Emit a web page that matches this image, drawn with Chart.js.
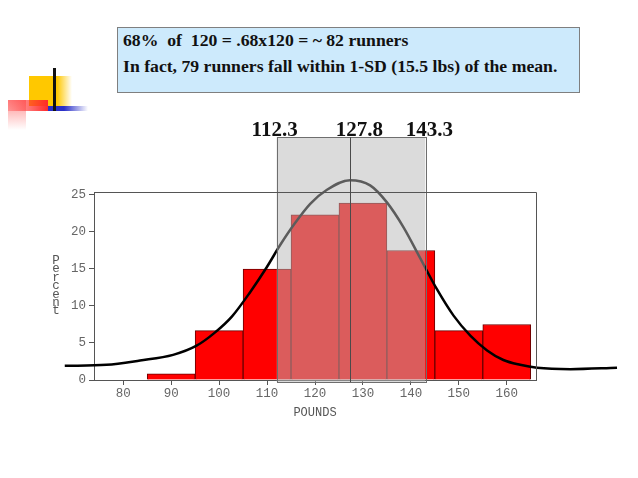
<!DOCTYPE html>
<html lang="en">
<head>
<meta charset="UTF-8">
<title>Runner weights</title>
<script src="https://cdn.jsdelivr.net/npm/chart.js@4"></script>
<style>
  body { margin: 0; background: #fff; }
  #wrap { position: relative; width: 638px; height: 478px; overflow: hidden; }
  #chartBox { position: absolute; left: 0; top: 0; width: 638px; height: 478px; }
  .note {
    position: absolute; left: 117px; top: 27px; width: 463px; height: 66px;
    background: #cdeafc; border: 1px solid #7f7f7f; box-sizing: border-box;
    font: bold 17.7px "Liberation Serif", "Times New Roman", serif; color: #111;
  }
  .note div { position: absolute; left: 5px; line-height: 18px; white-space: nowrap; }
  .ylab {
    position: absolute; left: 52px; top: 257px; width: 8px;
    font: 12.5px "Liberation Mono", monospace; color: #555;
    line-height: 8.4px; word-break: break-all; text-align: center;
  }
  .deco { position: absolute; }
</style>
</head>
<body>
<div id="wrap">
  <!-- little slide ornament, top left -->
  <div class="deco" style="left:29px;top:76px;width:43px;height:30px;background:linear-gradient(to right,#ffc800 65%,rgba(255,200,0,0));"></div>
  <div class="deco" style="left:8px;top:100px;width:40px;height:11px;background:linear-gradient(to right,rgba(255,60,60,0.3),#ff2a2a);"></div>
  <div class="deco" style="left:8px;top:100px;width:18px;height:30px;background:linear-gradient(to bottom,rgba(255,60,60,0.55),rgba(255,60,60,0));"></div>
  <div class="deco" style="left:48px;top:106px;width:40px;height:5px;background:linear-gradient(to right,#2a30c8 40%,rgba(42,48,200,0));"></div>
  <div class="deco" style="left:53px;top:68px;width:3px;height:43px;background:#111;"></div>

  <div class="note">
    <div style="top:3px;">68%&nbsp; of&nbsp; 120 = .68x120 = ~ 82 runners</div>
    <div style="top:29px;">In fact, 79 runners fall within 1-SD (15.5 lbs) of the mean.</div>
  </div>

  <div id="chartBox"><canvas id="histChart"></canvas></div>
  <div class="ylab">Percent</div>
</div>

<script>
// histogram bins (pounds) and percent of runners
const binCenters = [90, 100, 110, 120, 130, 140, 150, 160];
const binPercent = [0.83, 6.67, 15.0, 22.3, 23.9, 17.5, 6.67, 7.5];

// fitted curve
const curveX = [67.8, 76.5, 83.5, 90.4, 95.2, 99.1, 102.7, 106.5, 109.9, 112.7, 115.5, 119.0, 122.5,
                127.3, 131.5, 135.0, 138.5, 142.0, 145.4, 148.9, 152.4, 155.9, 159.3, 162.8, 166.3, 173.3, 183.0];
const curveY = [1.92, 2.05, 2.64, 3.4, 4.6, 6.4, 8.6, 11.9, 15.2, 18.2, 20.9, 23.8, 25.7,
                27.0, 26.3, 24.0, 20.6, 16.4, 12.3, 8.7, 6.0, 4.0, 2.7, 2.05, 1.65, 1.46, 1.65];

const xTicks = [80, 90, 100, 110, 120, 130, 140, 150, 160];
const yTicks = [0, 5, 10, 15, 20, 25];

// mean +/- 1 SD band
const sdValues = [112.0, 127.4, 143.0];
const sdLabels = ['112.3', '127.8', '143.3'];
const sdBoxTop = 32.8;

const tickFont = { family: '"Liberation Mono", monospace', size: 12.5 };

const sdBand = {
    id: 'sdBand',
    afterDatasetsDraw(chart) {
        const { ctx, chartArea: a, scales: { x, y } } = chart;
        const px = sdValues.map(v => x.getPixelForValue(v));
        const top = y.getPixelForValue(sdBoxTop);
        const bottom = y.getPixelForValue(0) + 2;
        ctx.save();
        ctx.fillStyle = 'rgba(184,184,184,0.5)';
        ctx.fillRect(px[0], top, px[2] - px[0], bottom - top);
        ctx.strokeStyle = '#6e6e6e';
        ctx.lineWidth = 1;
        ctx.strokeRect(Math.round(px[0]) + 0.5, Math.round(top) + 0.5, Math.round(px[2] - px[0]), Math.round(bottom - top));

        // top and right edges of the plot frame
        ctx.strokeStyle = '#555';
        ctx.beginPath();
        ctx.moveTo(a.left, Math.round(a.top) + 0.5);
        ctx.lineTo(Math.round(a.right) + 0.5, Math.round(a.top) + 0.5);
        ctx.lineTo(Math.round(a.right) + 0.5, a.bottom);
        ctx.stroke();

        // mean line
        ctx.strokeStyle = '#4a4a4a';
        ctx.beginPath();
        ctx.moveTo(Math.round(px[1]) + 0.5, top);
        ctx.lineTo(Math.round(px[1]) + 0.5, bottom);
        ctx.stroke();

        ctx.font = 'bold 21px "Liberation Serif", "Times New Roman", serif';
        ctx.fillStyle = '#111';
        ctx.textAlign = 'center';
        ctx.textBaseline = 'alphabetic';
        const shift = [-2, 9, 4];
        sdLabels.forEach((t, i) => ctx.fillText(t, px[i] + shift[i], top - 1.5));
        ctx.restore();
    }
};

new Chart(document.getElementById('histChart'), {
    type: 'bar',
    data: {
        datasets: [
            {
                type: 'line',
                data: curveX.map((v, i) => ({ x: v, y: curveY[i] })),
                borderColor: '#000',
                borderWidth: 2.5,
                pointRadius: 0,
                fill: false,
                cubicInterpolationMode: 'monotone',
                clip: false,
                order: 1
            },
            {
                type: 'bar',
                data: binCenters.map((v, i) => ({ x: v, y: binPercent[i] })),
                backgroundColor: '#ff0000',
                borderColor: '#6a0000',
                borderWidth: 1,
                barPercentage: 1,
                categoryPercentage: 1,
                order: 2
            }
        ]
    },
    options: {
        responsive: true,
        maintainAspectRatio: false,
        animation: false,
        layout: { padding: { left: 54, top: 192, right: 102, bottom: 58 } },
        plugins: { legend: { display: false }, tooltip: { enabled: false } },
        scales: {
            x: {
                type: 'linear',
                offset: false,
                bounds: 'data',
                // range set here (not via min/max) so the curve tails outside the frame still get drawn
                afterDataLimits: s => { s.min = 73.9; s.max = 166.1; },
                afterBuildTicks: s => { s.ticks = xTicks.map(v => ({ value: v })); },
                afterFit: s => { s.height = 40; },
                grid: { offset: false, drawOnChartArea: false, drawTicks: true, tickLength: 5, color: '#555' },
                border: { color: '#555' },
                ticks: { color: '#666', font: tickFont, padding: 1, maxRotation: 0 },
                title: { display: true, text: 'POUNDS', color: '#555', font: { family: tickFont.family, size: 12 }, padding: { top: 1, bottom: 0 } }
            },
            y: {
                min: 0,
                max: 25.4,
                afterBuildTicks: s => { s.ticks = yTicks.map(v => ({ value: v })); },
                afterFit: s => { s.width = 40; },
                grid: { drawOnChartArea: false, drawTicks: true, tickLength: 5, color: '#555' },
                border: { color: '#555' },
                ticks: { color: '#666', font: tickFont, padding: 3 }
            }
        }
    },
    plugins: [sdBand]
});
</script>
</body>
</html>
